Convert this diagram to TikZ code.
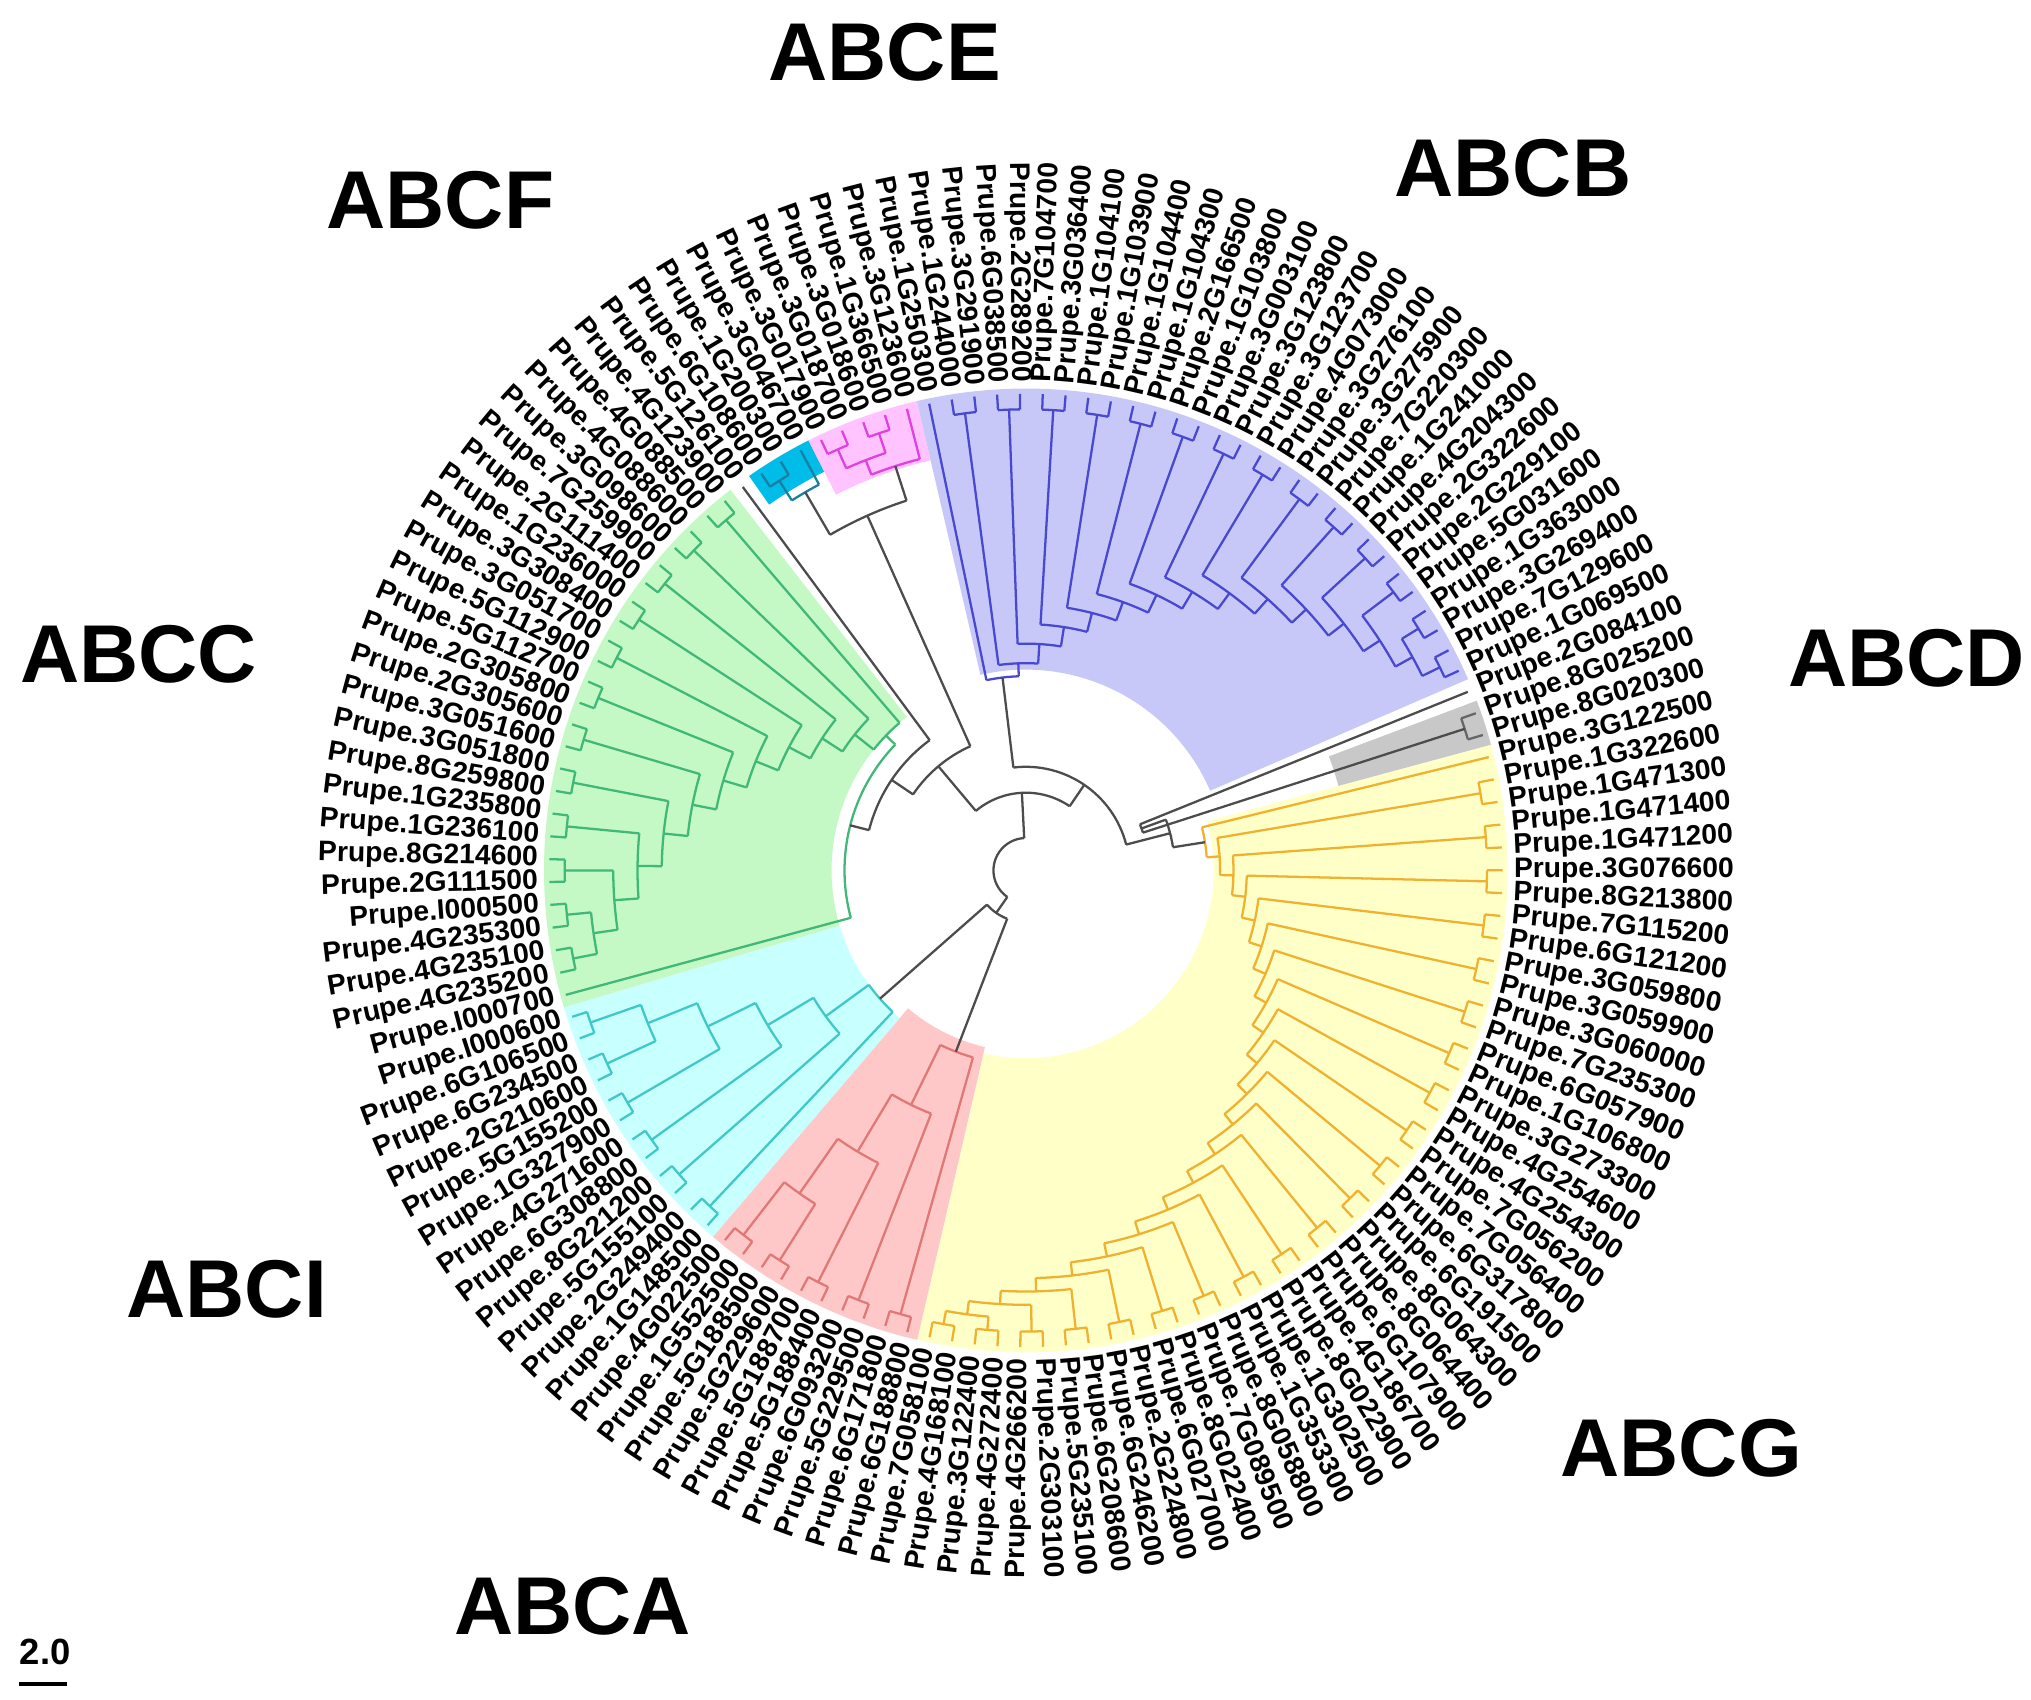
\documentclass[tikz,border=0pt]{standalone}
\usepackage{fontspec}
\setmainfont{Liberation Sans}
\def\st{2.748}
\def\RL{368}
\def\Rp{356}
% polar helpers, leaf index -> angle
\newcommand\rad[3]{\draw ({22-(#1)*\st}:#2) -- ({22-(#1)*\st}:#3);}
\newcommand\arcr[3]{\draw ({22-(#1)*\st}:#3) arc[start angle={22-(#1)*\st}, end angle={22-(#2)*\st}, radius=#3];}
\newcommand\br[5]{\rad{#1}{#4}{#3}\rad{#2}{#5}{#3}\arcr{#1}{#2}{#3}}
\newcommand\sector[4]{\fill[#4] ({22-(#1-0.5)*\st}:#3) arc[start angle={22-(#1-0.5)*\st}, end angle={22-(#2+0.5)*\st}, radius=#3] -- ({22-(#2+0.5)*\st}:372) arc[start angle={22-(#2+0.5)*\st}, end angle={22-(#1-0.5)*\st}, radius=372] -- cycle;}
\newcommand\ladder[4]{% base, sign, pairs, root radius
  \pgfmathtruncatemacro\nn{#3-1}
  \foreach \j in {0,...,\nn}{\pgfmathsetmacro\mm{#1+2*#2*\j}\br{\mm-0.5}{\mm+0.5}{\Rp}{\RL}{\RL}}
  \foreach \k in {1,...,\nn}{
    \pgfmathsetmacro\mpp{#1+2*#2*(\k-2+2^(1-\k))}
    \pgfmathsetmacro\mkk{#1+2*#2*\k}
    \pgfmathsetmacro\rkk{\Rp-\k*(\Rp-#4)/\nn}
    \pgfmathsetmacro\rpp{\Rp-(\k-1)*(\Rp-#4)/\nn}
    \br{\mpp}{\mkk}{\rkk}{\rpp}{\Rp}}}
\definecolor{gfill}{HTML}{FFFFC8}\definecolor{gline}{HTML}{F0B030}
\definecolor{afill}{HTML}{FFC8C8}\definecolor{aline}{HTML}{E07878}
\definecolor{ifill}{HTML}{C8FFFF}\definecolor{iline}{HTML}{40C8C8}
\definecolor{cfill}{HTML}{C4F8C4}\definecolor{cline}{HTML}{40B878}
\definecolor{ffill}{HTML}{00BCE8}\definecolor{fline}{HTML}{1A7FA0}
\definecolor{efill}{HTML}{FFC4FF}\definecolor{eline}{HTML}{E040E0}
\definecolor{bfill}{HTML}{C8C8F8}\definecolor{bline}{HTML}{4848D0}
\definecolor{dfill}{HTML}{C8C8C8}
\begin{document}
\begin{tikzpicture}[x=0.01cm,y=0.01cm,line width=0.5pt,
  leaf/.style={font=\bfseries\fontsize{6.2}{7}\selectfont,inner sep=0pt},
  clade/.style={font=\bfseries\fontsize{18}{20}\selectfont}]
\useasboundingbox (-792,-640) rectangle (776,672);

% shaded clades
\sector{3}{45}{145}{gfill}
\sector{46}{55}{140}{afill}
\sector{56}{67}{150}{ifill}
\sector{68}{92}{150}{cfill}
\sector{94}{96}{345}{ffill}
\sector{97}{101}{325}{efill}
\sector{102}{130}{155}{bfill}
\sector{1}{2}{250}{dfill}

% clade branches
\begin{scope}[gline]\ladder{44.5}{-1}{21}{150}\br{3}{6.5}{140}{\RL}{150}\end{scope}
\begin{scope}[aline]\ladder{54.5}{-1}{5}{150}\end{scope}
\begin{scope}[iline]\ladder{66.5}{-1}{6}{150}\end{scope}
\begin{scope}[cline]\ladder{69.5}{1}{12}{150}\br{68}{89.5}{140}{\RL}{150}\end{scope}
\begin{scope}[fline]\br{94}{95}{\Rp}{\RL}{\RL}\br{94.5}{96}{338}{\Rp}{\RL}\end{scope}
\begin{scope}[eline]\ladder{97.5}{1}{2}{340}\br{98.5}{101}{328}{340}{\RL}\end{scope}
\begin{scope}[bline]\ladder{129.5}{-1}{14}{160}\br{102}{105.5}{150}{\RL}{160}\end{scope}
\begin{scope}[gray!80!black]\br{1}{2}{\Rp}{\RL}{\RL}\end{scope}

% backbone
\begin{scope}[black!70]
\br{0}{1.5}{95}{\RL}{\Rp}
\br{0.75}{4.75}{115}{95}{140}
\br{103.75}{133.75}{80}{150}{115}
\br{78.75}{93}{125}{140}{\RL}
\br{95.25}{99.75}{300}{338}{328}
\br{85.875}{97.5}{105}{125}{300}
\br{91.69}{118.75}{60}{105}{80}
\br{48.44}{58.47}{40}{150}{150}
\br{53.45}{105.2}{25}{40}{60}
\end{scope}

% leaf labels
\foreach \n [count=\i from 0] in {2G084100,8G025200,8G020300,3G122500,1G322600,1G471300,1G471400,1G471200,3G076600,8G213800,7G115200,6G121200,3G059800,3G059900,3G060000,7G235300,6G057900,1G106800,3G273300,4G254600,4G254300,7G056200,7G056400,6G317800,6G191500,8G064300,8G064400,6G107900,4G186700,8G022900,1G302500,1G353300,8G058800,7G089500,8G022400,6G027000,2G224800,6G246200,6G208600,5G235100,2G303100,4G266200,4G272400,3G122400,4G168100,7G058100,6G188800,6G171800,5G229500,6G093200,5G188400,5G188700,5G229600,5G188500,1G552500,4G022500,1G148500,2G249400,5G155100,8G221200,6G308800,4G271600,1G327900,5G155200,2G210600,6G234500,6G106500,I000600,I000700,4G235200,4G235100,4G235300,I000500,2G111500,8G214600,1G236100,1G235800,8G259800,3G051800,3G051600,2G305600,2G305800,5G112700,5G112900,3G051700,3G308400,1G236000,2G111400,7G259900,3G098600,4G088600,4G088500,4G123900,5G126100,6G108600,1G200300,3G046700,3G017900,3G018700,3G018600,1G366500,3G123600,1G250300,1G244000,3G291900,6G038500,2G289200,7G104700,3G036400,1G104100,1G103900,1G104400,1G104300,2G166500,1G103800,3G003100,3G123800,3G123700,4G073000,3G276100,3G275900,7G220300,1G241000,4G204300,2G322600,2G229100,5G031600,1G363000,3G269400,7G129600,1G069500}{
  \pgfmathsetmacro\ang{22-\i*\st}
  \pgfmathtruncatemacro\rside{cos(\ang)>0}
  \ifnum\rside=1
    \node[leaf,anchor=west,rotate=\ang] (l\i) at (\ang:376) {Prupe.\n};
  \else
    \node[leaf,anchor=east,rotate=\ang+180] (l\i) at (\ang:376) {Prupe.\n};
  \fi}

% clade names
\node[clade] (nE) at (-109,632) {ABCE};
\node[clade] (nB) at (376,542) {ABCB};
\node[clade] (nF) at (-452,517) {ABCF};
\node[clade] (nC) at (-685,167) {ABCC};
\node[clade] (nD) at (680,164) {ABCD};
\node[clade] (nI) at (-617,-323) {ABCI};
\node[clade] (nG) at (506,-446) {ABCG};
\node[clade] (nA) at (-350,-568) {ABCA};

% scale bar
\node[font=\bfseries\fontsize{8}{9}\selectfont] (sc) at (-757,-603) {2.0};
\draw[line width=1pt] (-777,-628) -- (-740,-628);
\end{tikzpicture}
\end{document}
